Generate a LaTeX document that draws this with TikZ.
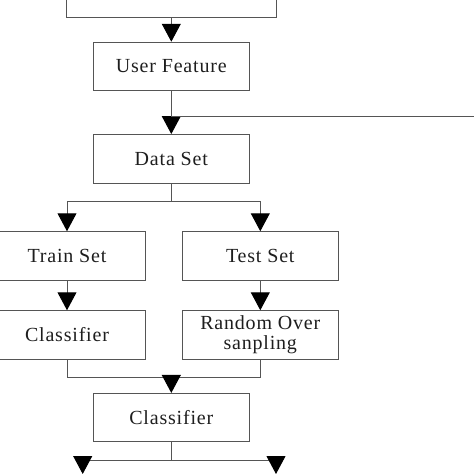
\documentclass[tikz,border=0pt]{standalone}
\usepackage{fontspec}
\setmainfont{Liberation Serif}[LetterSpace=4.0]
\usetikzlibrary{arrows.meta}
\definecolor{linegray}{HTML}{555555}
\definecolor{textdark}{HTML}{1E1E1E}
\begin{document}
\begin{tikzpicture}[x=1pt,y=-1pt,
  box/.style={draw=linegray, line width=1pt, minimum width=156.5pt, minimum height=48.5pt,
    inner sep=0pt, align=center, text=textdark, font=\fontsize{20}{20}\selectfont},
  conn/.style={draw=linegray, line width=1pt},
  arr/.style={conn, -{Triangle[width=19pt,length=18pt,black]}}
]
\useasboundingbox (0,0) rectangle (474,474);
\clip (0,0) rectangle (474,474);

\node[box, minimum width=210pt] (top) at (171.7,-6.5) {};
\node[box] (uf) at (171.3,66.5) {User Feature};
\node[box] (ds) at (171.3,158.8) {Data Set};
\node[box] (train) at (67,256) {Train Set};
\node[box] (test) at (260.3,256) {Test Set};
\node[box] (cls1) at (67,335) {Classifier};
\node[box] (rand) at (260.3,335) {Random Over\\sanpling};
\node[box] (cls2) at (171.3,417.7) {Classifier};

\coordinate (fb) at (476,116.7);
\coordinate (split1) at (171.3,201);
\coordinate (join) at (171.3,377.7);
\coordinate (split2) at (171.3,460);
\coordinate (outL) at (82.7,474);
\coordinate (outR) at (276,474);

\draw[arr] (top.south -| uf) -- (uf.north);
\draw[arr] (uf.south) -- (ds.north);
\draw[conn] (fb) -- (fb -| uf);

\draw[conn] (ds.south) -- (split1);
\draw[arr] (split1) -| (train.north);
\draw[arr] (split1) -| (test.north);

\draw[arr] (train.south) -- (cls1.north);
\draw[arr] (test.south) -- (rand.north);

\draw[conn] (cls1.south) |- (join) -| (rand.south);
\draw[arr] (join) -- (cls2.north);

\draw[conn] (cls2.south) -- (split2);
\draw[arr] (split2) -| (outL);
\draw[arr] (split2) -| (outR);
\end{tikzpicture}
\end{document}
